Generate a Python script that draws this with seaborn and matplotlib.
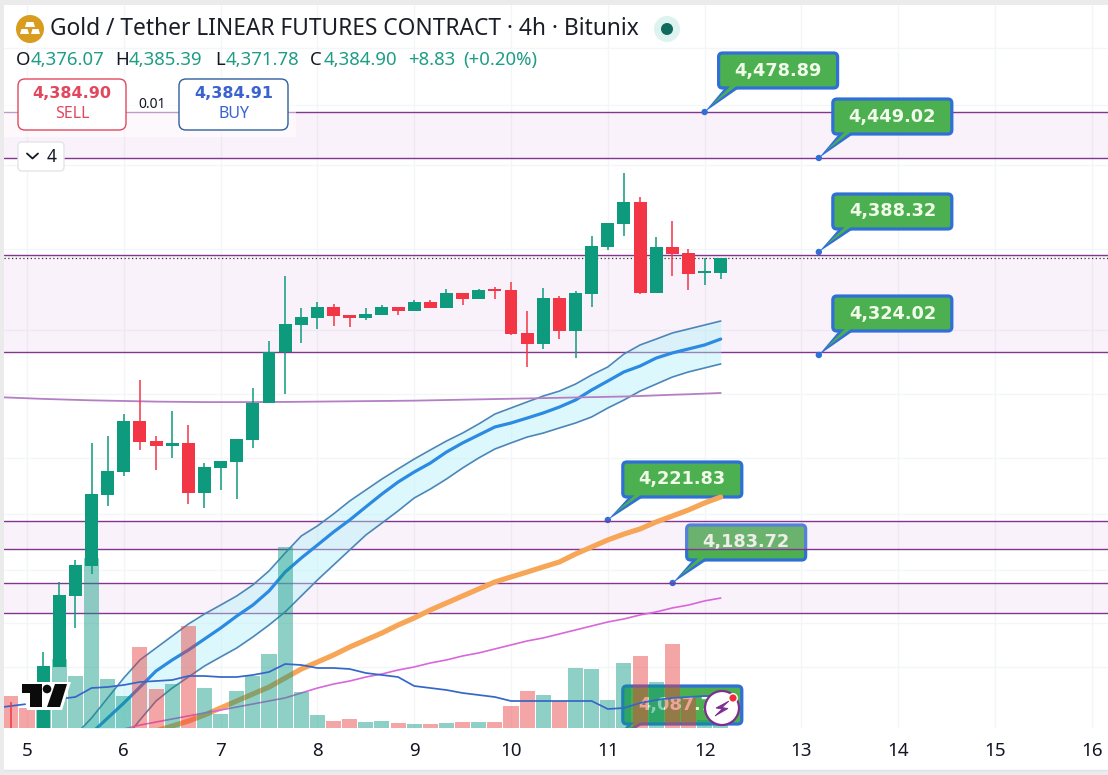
import numpy as np
import pandas as pd
import matplotlib
matplotlib.use("Agg")
import matplotlib.pyplot as plt
import seaborn as sns
from matplotlib.patches import FancyBboxPatch, Polygon, Circle, Rectangle
from matplotlib.lines import Line2D
from matplotlib.transforms import IdentityTransform

# ---------- data ----------
tick_days = [5, 6, 7, 8, 9, 10, 11, 12, 13, 14, 15, 16]
all_days = 5 + np.arange(-2, 44) / 6
candle_days = all_days[1:]

opens = [4085.0, 4085.0, 4085.0, 4131.1, 4175.6, 4194.4, 4238.9, 4253.3, 4285.3, 4272.7, 4269.6, 4271.5, 4240.1, 4255.8, 4259.6,
         4273.3, 4296.5, 4328.5, 4345.4, 4349.8, 4356.7, 4351.7, 4349.8, 4351.7, 4356.7, 4354.2, 4359.8, 4356.1, 4365.5, 4361.7,
         4367.3, 4367.3, 4340.4, 4333.5, 4362.3, 4341.7, 4364.8, 4394.3, 4408.7, 4422.5, 4365.5, 4394.3, 4390.5, 4378.0, 4378.0]
highs = [4109.2, 4090.0, 4140.5, 4184.4, 4198.1, 4271.5, 4275.9, 4289.6, 4310.9, 4275.9, 4291.5, 4282.7, 4258.9, 4260.2, 4274.0,
         4305.9, 4335.4, 4376.1, 4356.1, 4359.8, 4358.6, 4351.7, 4356.1, 4357.9, 4356.7, 4361.1, 4361.1, 4368.0, 4365.5, 4368.0,
         4369.2, 4372.4, 4354.2, 4368.6, 4363.6, 4366.7, 4401.2, 4409.3, 4440.7, 4425.6, 4400.6, 4410.6, 4393.0, 4387.4, 4387.4]
lows = [4075.0, 4075.0, 4080.0, 4131.1, 4155.5, 4189.4, 4232.0, 4250.8, 4267.1, 4254.5, 4262.1, 4233.2, 4230.7, 4242.0, 4236.4,
        4268.3, 4296.5, 4302.2, 4334.1, 4342.9, 4344.8, 4344.2, 4348.5, 4351.7, 4351.7, 4354.2, 4356.1, 4356.1, 4357.9, 4361.7,
        4361.7, 4339.1, 4319.1, 4330.4, 4336.6, 4324.7, 4356.7, 4392.4, 4401.2, 4364.8, 4365.5, 4376.1, 4367.3, 4370.5, 4374.2]
closes = [4080.0, 4080.0, 4131.7, 4176.2, 4195.0, 4239.5, 4253.9, 4285.3, 4272.1, 4269.6, 4271.5, 4240.1, 4256.4, 4260.2, 4274.0,
          4296.5, 4328.5, 4346.0, 4350.4, 4356.7, 4351.1, 4349.8, 4352.3, 4356.7, 4354.2, 4359.8, 4356.1, 4365.5, 4361.7, 4367.3,
          4366.7, 4339.8, 4333.5, 4362.3, 4341.7, 4365.5, 4394.9, 4409.3, 4422.5, 4365.5, 4394.3, 4389.9, 4377.4, 4378.6, 4387.4]
volumes = [32, 20, 40, 69, 52, 170, 49, 32, 81, 39, 44, 102, 40, 14, 37, 52, 74, 181, 36, 13, 7, 9, 6, 7, 5, 4, 4, 5, 6, 6,
           6, 22, 37, 33, 27, 60, 59, 28, 65, 72, 46, 84, 30, 8, 6]
volume_ma = [20, 22, 24, 27, 29, 31, 40, 41, 43, 46, 47, 48, 52, 52, 51, 51, 53, 56, 64, 63, 60, 60, 59, 55, 53, 51, 42, 40, 38, 35,
             33, 31, 27, 27, 27, 27, 27, 27, 19, 20, 25, 28, 30, 31, 32, 32]

band_mid = [4089.7, 4099.1, 4108.5, 4118.5, 4128.6, 4135.5, 4141.7, 4148.6, 4155.5, 4163.0, 4169.9, 4178.7, 4190.6, 4199.4, 4207.5,
            4215.7, 4223.2, 4231.4, 4239.5, 4247.0, 4253.3, 4258.9, 4265.8, 4271.5, 4276.5, 4281.5, 4284.0, 4287.1, 4290.3, 4294.0,
            4298.4, 4304.7, 4310.3, 4316.0, 4319.7, 4324.7, 4327.9, 4330.4, 4332.9, 4336.6]
band_up = [4088.5, 4099.1, 4111.7, 4124.2, 4135.5, 4143.0, 4150.5, 4158.0, 4164.3, 4169.9, 4175.6, 4182.5, 4191.3, 4202.5, 4213.2,
           4219.5, 4227.0, 4235.1, 4242.0, 4248.9, 4255.2, 4261.4, 4267.1, 4272.7, 4277.7, 4283.4, 4289.6, 4293.4, 4297.2, 4300.9,
           4304.0, 4308.4, 4314.1, 4319.1, 4327.2, 4332.9, 4336.6, 4340.4, 4342.9, 4345.4, 4347.9]
band_low = [4047.7, 4060.3, 4072.8, 4085.3, 4097.9, 4109.8, 4117.9, 4124.8, 4131.7, 4137.4, 4143.0, 4149.9, 4157.4, 4165.6, 4175.6,
            4185.6, 4195.0, 4204.4, 4213.8, 4221.3, 4228.9, 4237.0, 4242.6, 4248.9, 4255.8, 4262.1, 4267.7, 4271.5, 4275.2, 4277.7,
            4280.9, 4284.0, 4287.8, 4293.4, 4298.4, 4304.0, 4308.4, 4312.8, 4316.0, 4318.5, 4321.0]
orange_ma = [4091.0, 4094.1, 4097.2, 4101.0, 4105.4, 4109.8, 4114.2, 4118.5, 4124.2, 4129.8, 4134.2, 4138.6, 4143.6, 4148.0, 4152.4,
             4157.4, 4161.8, 4166.8, 4171.2, 4175.6, 4180.0, 4184.4, 4187.5, 4190.6, 4193.8, 4196.9, 4201.9, 4206.3, 4210.7, 4214.4,
             4217.6, 4222.0, 4225.7, 4229.5, 4233.9, 4237.6]
pink_ma = [4090.4, 4092.2, 4094.7, 4096.6, 4098.5, 4100.4, 4102.3, 4104.1, 4106.0, 4107.9, 4109.8, 4111.7, 4114.8, 4117.9, 4120.4,
           4122.3, 4124.8, 4126.7, 4129.2, 4131.1, 4133.6, 4135.5, 4138.0, 4139.9, 4142.4, 4144.9, 4147.4, 4149.3, 4151.8, 4154.3,
           4156.8, 4159.3, 4161.2, 4163.7, 4165.6, 4168.1, 4169.9, 4172.5, 4174.3]
purple_ma = [4300.3, 4299.9, 4299.5, 4299.1, 4298.8, 4298.5, 4298.2, 4298.0, 4297.8, 4297.6,
             4297.4, 4297.3, 4297.2, 4297.1, 4297.1, 4297.1, 4297.1, 4297.2, 4297.2, 4297.3,
             4297.4, 4297.5, 4297.6, 4297.7, 4297.8, 4297.9, 4298.0, 4298.2, 4298.4, 4298.6,
             4298.8, 4299.0, 4299.2, 4299.4, 4299.6, 4299.8, 4300.0, 4300.2, 4300.4, 4300.6,
             4300.9, 4301.3, 4301.7, 4302.0, 4302.4, 4302.8]

level_lines = [4478.89, 4450.06, 4389.28, 4328.49, 4222.58, 4205.03, 4183.73, 4164.93]
level_bands = [(4478.89, 4450.06), (4389.28, 4328.49), (4222.58, 4205.03), (4183.73, 4164.93)]
grid_prices = [4519.0, 4483.3, 4445.7, 4393.0, 4342.3, 4302.2, 4262.1, 4227.0, 4191.9, 4158.6, 4131.1]

callout_labels = ["4,478.89", "4,449.02", "4,388.32", "4,324.02", "4,221.83", "4,183.72", "4,087.72"]
callout_days = [12.0, 13.18, 13.18, 13.18, 11.0, 11.67, 11.0]
callout_prices = [4478.89, 4450.06, 4391.16, 4326.61, 4223.21, 4183.73, 4082.2]

# ---------- styling ----------
W, H = 1108, 775
GREEN, RED = "#0e9b7d", "#f23645"
sns.set_theme(style="white")
plt.rcParams["font.family"] = ["Noto Sans", "DejaVu Sans"]
I = IdentityTransform()
def P(x, y):
    return (x, H - y)

fig = plt.figure(figsize=(W / 100, H / 100), dpi=100, facecolor="#ebebeb")
fig.add_artist(Rectangle(P(4, 770), W - 4, 765, transform=I, fc="white", ec="none", zorder=0))
fig.add_artist(Line2D([4, W], [H - 770, H - 770], transform=I, color="#dfe2ea", lw=1, zorder=0.5))

rect = [4 / W, (H - 728) / H, (W - 4) / W, 723 / H]
axb = fig.add_axes(rect, zorder=1, facecolor="none")
axv = fig.add_axes(rect, zorder=2, facecolor="none")
axc = fig.add_axes(rect, zorder=3, facecolor="none")

xlim = (5 + (4 - 27) / 96.8, 5 + (W - 27) / 96.8)
ylim = (4092.86, 4545.95)

# volume
vol_df = pd.DataFrame({"day": candle_days, "volume": volumes,
                       "side": ["up" if c >= o else "down" for o, c in zip(opens, closes)]})
sns.barplot(data=vol_df, x="day", y="volume", hue="side", palette={"up": "#0c9983", "down": "#e93e3e"},
            native_scale=True, dodge=False, width=0.93, alpha=0.46, saturation=1, linewidth=0,
            legend=False, ax=axv, zorder=2)
sns.lineplot(x=all_days[-len(volume_ma):], y=volume_ma, color="#3566c9", lw=1.25, legend=False, errorbar=None, ax=axv, zorder=3)
axv.set_xlim(xlim)
axv.set_ylim(0, 723)

for ax in (axb, axc):
    ax.set_xlim(xlim)
    ax.set_ylim(ylim)

# level bands and lines
for top, bottom in level_bands:
    axb.axhspan(bottom, top, color="#9c27b0", alpha=0.06, lw=0, zorder=2)
for lv in level_lines:
    axb.axhline(lv, color="#84358f", lw=1.0, zorder=3)
axb.axhline(closes[-1], color="#333333", lw=0.9, ls=(0, (1, 2)), zorder=3)

# moving averages and band
band_days = all_days[-len(band_up):]
axb.fill_between(band_days, band_low, band_up, color="#b0f0f8", alpha=0.42, lw=0, zorder=4)
sns.lineplot(x=band_days, y=band_up, color="#4c86b8", lw=1.2, legend=False, errorbar=None, ax=axb, zorder=5)
sns.lineplot(x=band_days, y=band_low, color="#4c86b8", lw=1.2, legend=False, errorbar=None, ax=axb, zorder=5)
sns.lineplot(x=all_days[-len(band_mid):], y=band_mid, color="#2b8ae2", lw=2.3, legend=False, errorbar=None, ax=axb, zorder=6)
sns.lineplot(x=all_days[-len(orange_ma):], y=orange_ma, color="#f7a556", lw=3.7, legend=False, errorbar=None, ax=axb, zorder=6)
sns.lineplot(x=all_days[-len(pink_ma):], y=pink_ma, color="#d868d8", lw=1.2, legend=False, errorbar=None, ax=axb, zorder=6)
sns.lineplot(x=all_days[-len(purple_ma):], y=purple_ma, color="#b57fc4", lw=1.3, legend=False, errorbar=None, ax=axb, zorder=6)

# candles
cols = [GREEN if c >= o else RED for o, c in zip(opens, closes)]
axc.vlines(candle_days, lows, highs, colors=cols, lw=1.1, zorder=2)
bottoms = np.minimum(opens, closes)
heights = np.maximum(np.abs(np.array(closes) - np.array(opens)), 1.0)
axc.bar(candle_days, heights, bottom=bottoms, width=0.134, color=cols, lw=0, zorder=3)

# axes cosmetics
axb.set_xticks(tick_days)
axb.set_xticklabels([str(d) for d in tick_days], fontsize=13.5, color="#131722")
axb.set_yticks(grid_prices)
axb.set_yticklabels([])
axb.tick_params(axis="x", length=0, pad=10)
axb.tick_params(axis="y", length=0)
axb.grid(True, color="#f4f5f8", lw=1)
axb.set_axisbelow(True)
for ax in (axv, axc):
    ax.set_xticks([]); ax.set_yticks([])
    ax.set_xlabel(""); ax.set_ylabel("")
    ax.grid(False)
axb.set_xlabel(""); axb.set_ylabel("")
for ax in (axb, axv, axc):
    for s in ax.spines.values():
        s.set_visible(False)

# callouts
BLUE = "#2f6fd6"
BOX_GREEN = "#4caf50"
offsets = [(14, -59), (14, -59), (14, -58), (14, -59), (15, -58), (14, -58), (15, -59)]
def callout(target, label, day, price, off, under=False, z=10, h=35):
    ax_x, ax_y = axb.transData.transform((day, price))
    left = ax_x + off[0]
    top = ax_y - off[1]
    w = 119
    def add(a):
        if under:
            target.add_patch(a)
        else:
            target.add_artist(a)
    tail = Polygon([(ax_x, ax_y), (left + 7, top - h + 1), (left + 22, top - h + 1)], closed=True,
                   transform=I, fc=BLUE, ec="none", zorder=z)
    inner = Polygon([(ax_x + 6, ax_y + 6), (left + 12, top - h + 2), (left + 18, top - h + 2)], closed=True,
                    transform=I, fc=BOX_GREEN, ec="none", zorder=z + 0.1)
    box = FancyBboxPatch((left, top - h), w, h, boxstyle="round,pad=0,rounding_size=4", transform=I,
                         fc=BOX_GREEN, ec=BLUE, lw=2.3, zorder=z + 0.05)
    add(tail); add(box); add(inner)
    add(Circle((ax_x, ax_y), 3.2, transform=I, fc=BLUE, ec="none", zorder=z + 0.2))
    target.text(left + w / 2, top - h / 2, label, transform=I, ha="center", va="center", color="#f1fbe9",
                fontsize=12.8, fontweight="bold", family="DejaVu Sans", zorder=z + 0.3)
    return left, top, w, h

for i, (lab, d, pr, off) in enumerate(zip(callout_labels, callout_days, callout_prices, offsets)):
    if lab in ("4,183.72", "4,087.72", "4,221.83"):
        l, t, w, h = callout(axb, lab, d, pr, off, under=True, z=1, h=38 if lab == "4,087.72" else 35)
        if lab == "4,183.72":
            axb.add_patch(Rectangle((l - 2, t - 24), w + 4, 26, transform=I, fc="white", ec="none", alpha=0.16, zorder=1.5))
    else:
        callout(fig, lab, d, pr, off, z=10)

# header
fig.add_artist(Circle(P(30, 29), 14, transform=I, fc="#d89c1e", ec="none", zorder=5))
for x0, y0, w, h in [(25, 22, 10, 5), (20, 29, 9, 5), (31, 29, 9, 5)]:
    fig.add_artist(Polygon([P(x0 + 1.5, y0), P(x0 + w - 1.5, y0), P(x0 + w, y0 + h), P(x0, y0 + h)], closed=True,
                           transform=I, fc="white", ec="none", zorder=6))
def T(x, y, s, **kw):
    kw.setdefault("va", "center")
    kw.setdefault("color", "#131722")
    return fig.text(x, H - y, s, transform=I, zorder=8, **kw)

T(50, 29, "Gold / Tether LINEAR FUTURES CONTRACT · 4h · Bitunix", fontsize=16.4, color="#1b1e27")
fig.add_artist(Circle(P(667, 29), 13, transform=I, fc="#dcf3ef", ec="none", zorder=5))
fig.add_artist(Circle(P(667, 29), 6, transform=I, fc="#0f6b5c", ec="none", zorder=6))

TEAL = "#1f9d86"
for x, s, c in [(16, "O", "#131722"), (31, "4,376.07", TEAL), (115, "H", "#131722"), (129, "4,385.39", TEAL),
                (215, "L", "#131722"), (226, "4,371.78", TEAL), (310, "C", "#131722"), (324, "4,384.90", TEAL),
                (408, "+8.83", TEAL), (463, "(+0.20%)", TEAL)]:
    T(x, 60, s, fontsize=13.4, color=c)

fig.add_artist(Rectangle(P(4, 137), 292, 60, transform=I, fc="white", ec="none", alpha=0.5, zorder=7))
for x0, x1, ec, top_s, bot_s in [(18, 126, "#e2485d", "4,384.90", "SELL"), (179, 288, "#2f5f9f", "4,384.91", "BUY")]:
    fig.add_artist(FancyBboxPatch(P(x0, 130), x1 - x0, 51, boxstyle="round,pad=0,rounding_size=7", transform=I,
                                  fc="white", ec=ec, lw=1.0, zorder=7.5))
    tc = "#e2485d" if bot_s == "SELL" else "#3a63d0"
    T((x0 + x1) / 2, 94, top_s, fontsize=11.5, fontweight="bold", color=tc, ha="center", family="DejaVu Sans")
    T((x0 + x1) / 2, 114, bot_s, fontsize=11.5, fontweight="bold", color=tc, ha="center")
T(152, 105, "0.01", fontsize=10, ha="center")

fig.add_artist(FancyBboxPatch(P(18, 171), 46, 29, boxstyle="round,pad=0,rounding_size=4", transform=I,
                              fc="white", ec="#e3e4e8", lw=1, zorder=7.5))
fig.add_artist(Line2D([27, 32.5, 38], [H - 153.5, H - 158.5, H - 153.5], transform=I, color="#131722", lw=1.3, zorder=8))
T(52, 156.5, "4", fontsize=12.5, ha="center")

# logo
fig.add_artist(Polygon([P(21, 682), P(71, 682), P(62, 710), P(27, 710)], closed=True, transform=I, fc="white", ec="none", zorder=8))
fig.add_artist(Polygon([P(22, 684), P(42, 684), P(42, 707), P(30, 707), P(30, 693), P(22, 693)], closed=True,
                       transform=I, fc="#0b0b0b", ec="none", zorder=9))
fig.add_artist(Circle(P(47, 689), 4.3, transform=I, fc="#0b0b0b", ec="none", zorder=9))
fig.add_artist(Polygon([P(55, 684), P(67, 684), P(60, 707), P(47, 707)], closed=True, transform=I, fc="#0b0b0b", ec="none", zorder=9))

# assistant icon
fig.add_artist(Circle(P(722, 708), 17, transform=I, fc="white", ec="#7d2e8f", lw=1.6, zorder=9))
fig.add_artist(Polygon([P(729, 701), P(716, 708), P(722, 709), P(715, 716), P(728, 708.5), P(722, 707.5)], closed=True,
                       transform=I, fc="#7d2e8f", ec="#7d2e8f", lw=0.6, zorder=10))
fig.add_artist(Circle(P(733, 698), 4.3, transform=I, fc="#ee2e3e", ec="white", lw=1, zorder=11))

fig.savefig("out.png", dpi=100, facecolor=fig.get_facecolor())
